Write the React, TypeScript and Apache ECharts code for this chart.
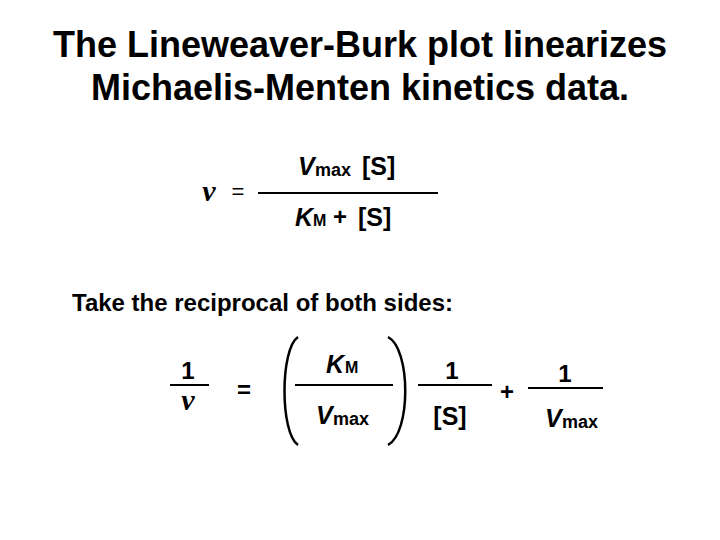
import {useEffect, useRef} from 'react';
import * as echarts from 'echarts';

// slide text
const titleLines = ['The Lineweaver-Burk plot linearizes', 'Michaelis-Menten kinetics data.'];
const instruction = 'Take the reciprocal of both sides:';
const symbols = {rate: 'v', vmax: 'V', km: 'K', maxSub: 'max', mSub: 'M', substrate: '[S]', one: '1'};

const SANS = '"Liberation Sans", Arial, Helvetica, sans-serif';
const SERIF = '"Liberation Serif", "Times New Roman", serif';

type Opts = {size?: number; italic?: boolean; bold?: boolean; align?: string; family?: string};

function txt(text: string, x: number, y: number, o: Opts = {}) {
    const align = o.align || 'left';
    return {
        type: 'text',
        x,
        y,
        style: {
            text,
            fill: '#000',
            fontSize: o.size || 24,
            fontWeight: o.bold === false ? 'normal' : 'bold',
            fontStyle: o.italic ? 'italic' : 'normal',
            fontFamily: o.family || SANS,
            align,
            verticalAlign: 'middle',
            textAlign: align,
            textVerticalAlign: 'middle'
        }
    };
}

function bar(x1: number, x2: number, y: number, w = 2) {
    return {type: 'line', shape: {x1, y1: y, x2, y2: y}, style: {stroke: '#000', lineWidth: w}};
}

function paren(xEnd: number, xCp: number, top: number, bottom: number) {
    return {
        type: 'bezierCurve',
        shape: {x1: xEnd, y1: top, cpx1: xCp, cpy1: top + 12, cpx2: xCp, cpy2: bottom - 12, x2: xEnd, y2: bottom},
        style: {stroke: '#000', lineWidth: 2.5, fill: 'none'}
    };
}

export default function App() {
    const ref = useRef<HTMLDivElement | null>(null);

    useEffect(() => {
        if (!ref.current) return;
        const chart = echarts.init(ref.current, null, {renderer: 'svg'});
        const s = symbols;

        const elements: any[] = [
            txt(titleLines[0], 360, 44, {size: 36, align: 'center'}),
            txt(titleLines[1], 360, 87, {size: 36, align: 'center'}),

            // v = Vmax[S] / (KM + [S])
            txt(s.rate, 209, 190, {size: 30, italic: true, family: SERIF, align: 'center'}),
            txt('=', 238, 191, {size: 22, bold: false, align: 'center'}),
            txt(s.vmax, 298, 166, {size: 25, italic: true}),
            txt(s.maxSub, 315, 169.5, {size: 18}),
            txt(s.substrate, 362, 166, {size: 25}),
            bar(258, 438, 193),
            txt(s.km, 295, 216.5, {size: 25, italic: true}),
            txt(s.mSub, 313, 220, {size: 16}),
            txt('+', 340, 216, {align: 'center'}),
            txt(s.substrate, 358, 217, {size: 25}),

            txt(instruction, 72, 302, {size: 24}),

            // 1/v = (KM/Vmax)(1/[S]) + 1/Vmax
            txt(s.one, 188, 370, {align: 'center'}),
            bar(170, 209, 385),
            txt(s.rate, 188, 399, {size: 30, italic: true, family: SERIF, align: 'center'}),
            txt('=', 244, 389, {align: 'center'}),
            paren(298, 280, 337, 445),
            paren(388, 411, 337, 445),
            txt(s.km, 326, 363.5, {size: 25, italic: true}),
            txt(s.mSub, 345, 367.5, {size: 16}),
            bar(295, 393, 385),
            txt(s.vmax, 316, 415, {size: 25, italic: true}),
            txt(s.maxSub, 333, 418.5, {size: 18}),
            txt(s.one, 452, 370, {align: 'center'}),
            bar(418, 492, 385),
            txt(s.substrate, 450, 416, {size: 25, align: 'center'}),
            txt('+', 507, 391, {align: 'center'}),
            txt(s.one, 565, 373, {align: 'center'}),
            bar(528, 603, 388),
            txt(s.vmax, 545, 418, {size: 25, italic: true}),
            txt(s.maxSub, 562, 421.5, {size: 18})
        ];

        chart.setOption({
            animation: false,
            backgroundColor: '#fff',
            graphic: {elements}
        });

        return () => chart.dispose();
    }, []);

    return <div ref={ref} style={{position: 'fixed', left: 0, top: 0, width: 720, height: 540}}/>;
}
